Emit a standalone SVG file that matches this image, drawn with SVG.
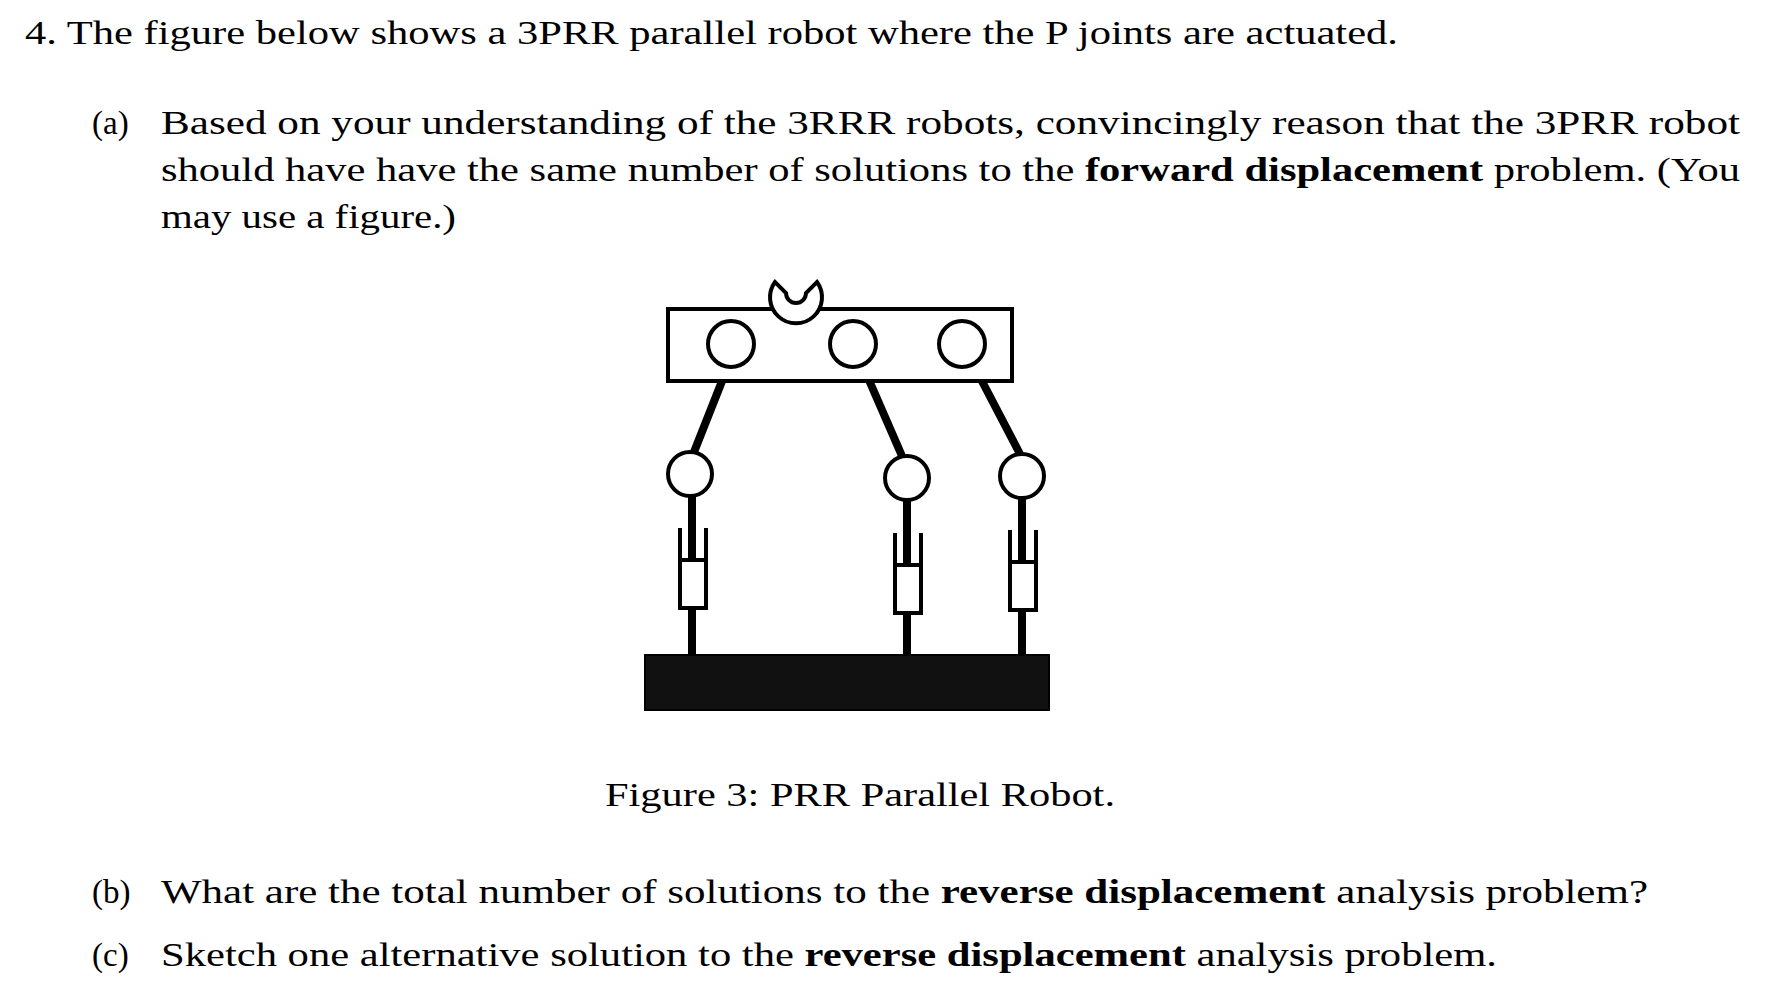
<svg xmlns="http://www.w3.org/2000/svg" width="1774" height="992" viewBox="0 0 1774 992">
<style>
text{font-family:"Liberation Serif","Times New Roman",serif;font-size:33px;fill:#000}
.b{font-weight:bold}
.o{fill:#fff;stroke:#000;stroke-width:4}
.l{stroke:#000;stroke-width:8;fill:none}
.t{stroke:#000;stroke-width:4;fill:none}
</style>
<rect width="1774" height="992" fill="#fff"/>
<text x="25" y="44" textLength="1373" lengthAdjust="spacingAndGlyphs">4. The figure below shows a 3PRR parallel robot where the P joints are actuated.</text>
<text x="92" y="134">(a)</text>
<text x="161" y="134" textLength="1579" lengthAdjust="spacingAndGlyphs">Based on your understanding of the 3RRR robots, convincingly reason that the 3PRR robot</text>
<text x="161" y="181" textLength="1579" lengthAdjust="spacingAndGlyphs">should have have the same number of solutions to the <tspan class="b">forward displacement</tspan> problem. (You</text>
<text x="161" y="228" textLength="295" lengthAdjust="spacingAndGlyphs">may use a figure.)</text>
<g id="connectors">
<line class="l" x1="728" y1="366" x2="694" y2="452"/>
<line class="l" x1="862" y1="364" x2="902" y2="456"/>
<line class="l" x1="973" y1="364" x2="1020" y2="454"/>
<line class="l" x1="692" y1="496" x2="692" y2="560"/>
<line class="l" x1="907" y1="500" x2="907" y2="564"/>
<line class="l" x1="1022" y1="498" x2="1022" y2="562"/>
<line class="l" x1="692" y1="608" x2="692" y2="657"/>
<line class="l" x1="907" y1="613" x2="907" y2="657"/>
<line class="l" x1="1022" y1="610" x2="1022" y2="657"/>
</g>
<g id="platform">
<rect class="o" x="668" y="309" width="344" height="72"/>
<path d="M775 282 A26 26 0 1 0 817 282 L806 293 A10 10 0 1 1 786 293 Z" class="o" stroke-width="3"/>
</g>
<g id="top-joints">
<circle class="o" cx="731" cy="344" r="23"/>
<circle class="o" cx="853" cy="344" r="23"/>
<circle class="o" cx="962" cy="344" r="23"/>
</g>
<g id="lower-joints">
<circle class="o" cx="690" cy="474" r="22"/>
<circle class="o" cx="907" cy="478" r="22"/>
<circle class="o" cx="1022" cy="476" r="22"/>
</g>
<g id="sliders">
<path class="t" d="M680 528 V560 M706 528 V560"/>
<rect class="o" x="680" y="560" width="26" height="48"/>
<path class="t" d="M895 533 V565 M921 533 V565"/>
<rect class="o" x="895" y="565" width="26" height="48"/>
<path class="t" d="M1010 530 V562 M1036 530 V562"/>
<rect class="o" x="1010" y="562" width="26" height="48"/>
</g>
<g id="base"><rect x="645" y="655" width="404" height="55" fill="#111" stroke="#000" stroke-width="2"/></g>
<text x="605" y="806" textLength="510" lengthAdjust="spacingAndGlyphs">Figure 3:  PRR Parallel Robot.</text>
<text x="92" y="903">(b)</text>
<text x="161" y="903" textLength="1487" lengthAdjust="spacingAndGlyphs">What are the total number of solutions to the <tspan class="b">reverse displacement</tspan> analysis problem?</text>
<text x="92" y="966">(c)</text>
<text x="161" y="966" textLength="1336" lengthAdjust="spacingAndGlyphs">Sketch one alternative solution to the <tspan class="b">reverse displacement</tspan> analysis problem.</text>
</svg>
